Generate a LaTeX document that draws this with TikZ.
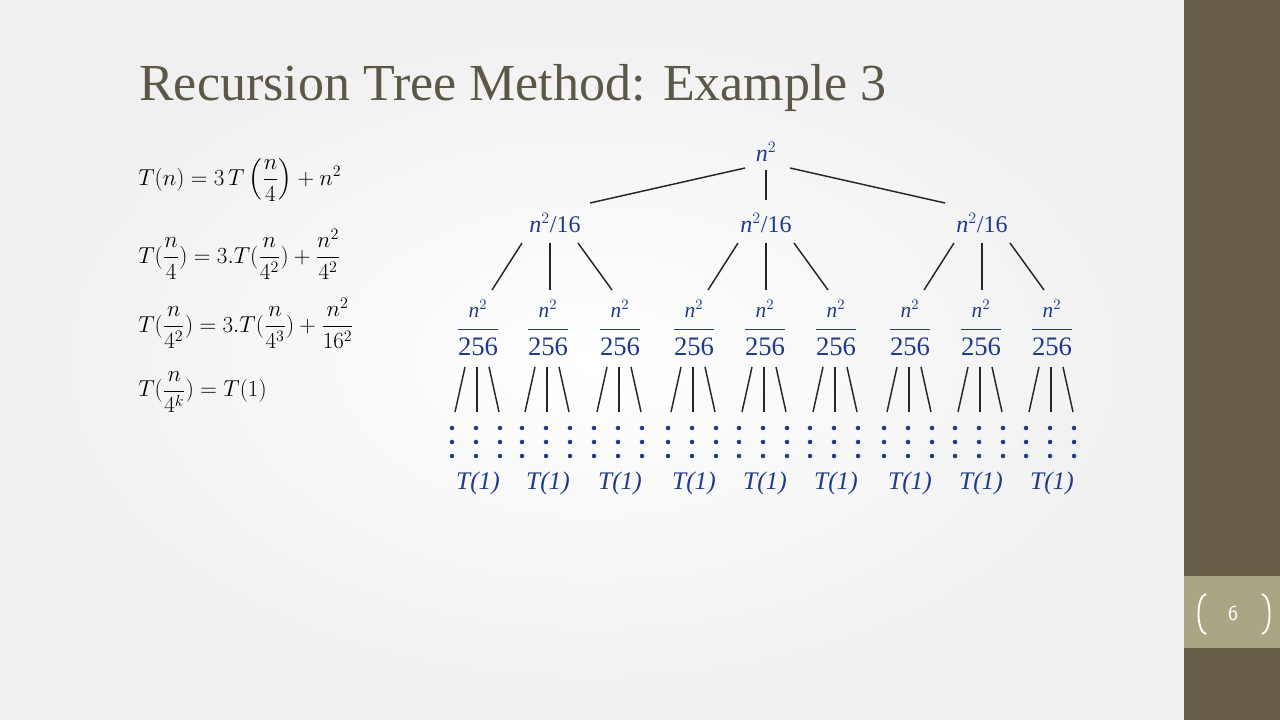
\documentclass[tikz,border=0pt]{standalone}
\usepackage{amsmath}
\usepackage{fontspec}
\setmainfont{Liberation Serif}
\definecolor{tblue}{HTML}{1F3A8A}
\definecolor{ttl}{HTML}{5C5746}
\definecolor{bar}{HTML}{675E47}
\definecolor{box}{HTML}{A9A585}
\begin{document}
\begin{tikzpicture}[x=0.75pt,y=-0.75pt,
  lbl/.style={text=tblue,inner sep=0pt,font=\fontsize{18}{20}\selectfont},
  edge/.style={line width=1.1pt,black!85},
  dot/.style={circle,fill=tblue,inner sep=0pt,minimum size=3.4pt},
  eq/.style={anchor=west,inner sep=0pt,font=\fontsize{18}{22}\selectfont}]
\useasboundingbox (0,0) rectangle (1280,720);
\shade[inner color=white,outer color=black!6] (0,0) rectangle (1184,720);
\fill[bar] (1184,0) rectangle (1280,720);
\fill[box] (1184,576) rectangle (1280,648);
\draw[white,line width=1.4pt] (1206,594) .. controls (1196,596) and (1196,632) .. (1206,634);
\draw[white,line width=1.4pt] (1262,594) .. controls (1272,596) and (1272,632) .. (1262,634);
\node[text=white,font=\sffamily\fontsize{16}{18}\selectfont] (pg) at (1233,613) {6};
\node[anchor=west,text=ttl,inner sep=0pt,font=\fontsize{39}{44}\selectfont] (title) at (139,88) {Recursion Tree Method: Example 3};
\node[eq] (e1) at (138,180) {$T(n)=3\,T\left(\dfrac{n}{4}\right)+n^2$};
\node[eq] (e2) at (138,254) {$T(\dfrac{n}{4})=3.T(\dfrac{n}{4^2})+\dfrac{n^2}{4^2}$};
\node[eq] (e3) at (138,323) {$T(\dfrac{n}{4^2})=3.T(\dfrac{n}{4^3})+\dfrac{n^2}{16^2}$};
\node[eq] (e4) at (138,392) {$T(\dfrac{n}{4^k})=T(1)$};
% tree
\node[lbl] (r) at (766,152) {\textit{n}$^{2}$};
\foreach \i/\x in {1/555,2/766,3/982}{
  \node[lbl] (a\i) at (\x,223) {\textit{n}$^{2}$/16};
}
\draw[edge] (745,168) -- (590,203);
\draw[edge] (766,170) -- (766,200);
\draw[edge] (790,168) -- (945,203);
\foreach \j/\x in {1/478,2/548,3/620,4/694,5/765,6/836,7/910,8/981,9/1052}{
  \node[lbl,font=\fontsize{20}{22}\selectfont] (b\j) at (\x,328) {$\dfrac{\text{\fontsize{16}{17}\selectfont\textit{n}$^{2}$}}{\text{256}}$};
  \node[lbl,font=\itshape\fontsize{19}{20}\selectfont] (t\j) at (\x,483) {T(1)};
  \draw[edge] (\x-13,367) -- (\x-23,412);
  \draw[edge] (\x-1,367) -- (\x-1,412);
  \draw[edge] (\x+11,367) -- (\x+21,412);
  \foreach \dx/\dy in {-26/428,-26/442,-26/456,-2/428,-2/442,-2/456,22/428,22/442,22/456}
    \node[dot] at (\x+\dx,\dy) {};
}
\foreach \i/\x in {1/550,2/766,3/982}{
  \draw[edge] (\x-28,243) -- (\x-58,290);
  \draw[edge] (\x,243) -- (\x,290);
  \draw[edge] (\x+28,243) -- (\x+62,290);
}
\end{tikzpicture}
\end{document}
